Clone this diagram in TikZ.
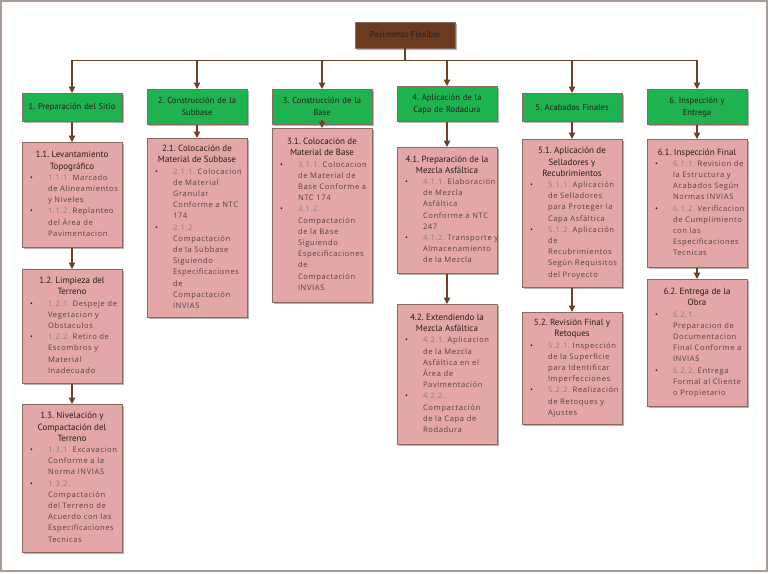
\documentclass[tikz,border=0pt]{standalone}
\usepackage{fontspec}
\setmainfont{PT Sans}
\newfontfamily\itemfont[LetterSpace=8]{Open Sans}
\usepackage{array}
\usetikzlibrary{arrows.meta,shadows}
\definecolor{rootbrown}{HTML}{6B3A1F}
\definecolor{greenfill}{HTML}{1EB34F}
\definecolor{pinkfill}{HTML}{E3A7A7}
\definecolor{boxline}{HTML}{8A6B62}
\definecolor{arrowc}{HTML}{6E4026}
\definecolor{framec}{HTML}{A99C95}
\definecolor{hdtext}{HTML}{2A1C1C}
\definecolor{ittext}{HTML}{564242}
\definecolor{numtext}{HTML}{8F7C7C}

\newcommand{\pk}[1]{{\fontsize{7.6}{11.2}\selectfont\itemfont\color{ittext}\renewcommand\arraystretch{1}%
  \begin{tabular}{@{\hspace{8pt}}l@{}l@{}}#1\end{tabular}}}
\newcommand{\Hd}[1]{\multicolumn{2}{@{}c@{}}{\fontsize{9}{11.2}\selectfont\rmfamily\color{hdtext}#1}\\}
\newcommand{\Bf}[2]{\makebox[18pt][l]{\color{hdtext}\textbullet} & \makebox[74pt][l]{{\color{numtext}#1} #2}\\}
\newcommand{\Bc}[1]{ & \makebox[74pt][l]{#1}\\}

\tikzset{
  boxshadow/.style={drop shadow={shadow xshift=1.8pt,shadow yshift=-1.8pt,opacity=0.3,fill=black}},
  rootbox/.style={draw=boxline, fill=rootbrown, line width=0.7pt, minimum width=100pt,
    minimum height=26pt, inner sep=2pt, font=\fontsize{8.6}{10}\selectfont, text=hdtext, boxshadow},
  greenstyle/.style={draw=boxline, fill=greenfill, line width=0.7pt, minimum width=100pt,
    text width=94pt, align=center, inner xsep=3pt, inner ysep=2pt,
    font=\fontsize{8.6}{12}\selectfont, text=hdtext, boxshadow, anchor=north},
  pinkstyle/.style={draw=boxline, fill=pinkfill, line width=0.7pt, minimum width=100pt,
    inner sep=0pt, boxshadow, anchor=north},
  arr/.style={draw=arrowc, line width=1.2pt, -{Triangle[width=6.5pt,length=6.5pt]}},
}

\begin{document}
\frenchspacing
\begin{tikzpicture}[x=1pt,y=-1pt]
\useasboundingbox (0,0) rectangle (768,573);
\fill[white] (0,0) rectangle (768,573);
\draw[framec, line width=2pt] (1,1) rectangle (767,571);

% root
\node[rootbox] (root) at (405,35) {Pavimento Flexible};

% level 1
\node[greenstyle, minimum height=28pt] (g1) at (72,93) {1. Preparación del Sitio};
\node[greenstyle, minimum height=35pt] (g2) at (197,89) {2. Construcción de la\\Subbase};
\node[greenstyle, minimum height=35pt] (g3) at (322,89) {3. Construcción de la\\Base};
\node[greenstyle, minimum height=35pt] (g4) at (447,86) {4. Aplicación de la\\Capa de Rodadura};
\node[greenstyle, minimum height=28pt] (g5) at (572,93) {5. Acabados Finales};
\node[greenstyle, minimum height=35pt] (g6) at (697,89) {6. Inspección y\\Entrega};

% level 2
\node[pinkstyle, minimum height=105pt] (p11) at (72,142) {\pk{%
  \Hd{1.1. Levantamiento}\Hd{Topográfico}
  \Bf{1.1.1.}{Marcado}\Bc{de Alineamientos}\Bc{y Niveles}
  \Bf{1.1.2.}{Replanteo}\Bc{del Área de}\Bc{Pavimentacion}}};
\node[pinkstyle, minimum height=114pt] (p12) at (72,269) {\pk{%
  \Hd{1.2. Limpieza del}\Hd{Terreno}
  \Bf{1.2.1.}{Despeje de}\Bc{Vegetacion y}\Bc{Obstaculos}
  \Bf{1.2.2.}{Retiro de}\Bc{Escombros y}\Bc{Material}\Bc{Inadecuado}}};
\node[pinkstyle, minimum height=148pt] (p13) at (72,404) {\pk{%
  \Hd{1.3. Nivelación y}\Hd{Compactación del}\Hd{Terreno}
  \Bf{1.3.1.}{Excavacion}\Bc{Conforme a la}\Bc{Norma INVIAS}
  \Bf{1.3.2.}{}\Bc{Compactación}\Bc{del Terreno de}\Bc{Acuerdo con las}\Bc{Especificaciones}\Bc{Tecnicas}}};
\node[pinkstyle, minimum height=179pt] (p21) at (197,138) {\pk{%
  \Hd{2.1. Colocación de}\Hd{Material de Subbase}
  \Bf{2.1.1.}{Colocacion}\Bc{de Material}\Bc{Granular}\Bc{Conforme a NTC}\Bc{174}
  \Bf{2.1.2.}{}\Bc{Compactación}\Bc{de la Subbase}\Bc{Siguiendo}\Bc{Especificaciones}\Bc{de}\Bc{Compactación}\Bc{INVIAS}}};
\node[pinkstyle, minimum height=174pt] (p31) at (322,128) {\pk{%
  \Hd{3.1. Colocación de}\Hd{Material de Base}
  \Bf{3.1.1.}{Colocacion}\Bc{de Material de}\Bc{Base Conforme a}\Bc{NTC 174}
  \Bf{3.1.2.}{}\Bc{Compactación}\Bc{de la Base}\Bc{Siguiendo}\Bc{Especificaciones}\Bc{de}\Bc{Compactación}\Bc{INVIAS}}};
\node[pinkstyle, minimum height=126pt] (p41) at (447,147) {\pk{%
  \Hd{4.1. Preparación de la}\Hd{Mezcla Asfáltica}
  \Bf{4.1.1.}{Elaboración}\Bc{de Mezcla}\Bc{Asfáltica}\Bc{Conforme a NTC}\Bc{247}
  \Bf{4.1.2.}{Transporte y}\Bc{Almacenamiento}\Bc{de la Mezcla}}};
\node[pinkstyle, minimum height=140pt] (p42) at (447,304) {\pk{%
  \Hd{4.2. Extendiendo la}\Hd{Mezcla Asfáltica}
  \Bf{4.2.1.}{Aplicacion}\Bc{de la Mezcla}\Bc{Asfáltica en el}\Bc{Área de}\Bc{Pavimentación}
  \Bf{4.2.2.}{}\Bc{Compactación}\Bc{de la Capa de}\Bc{Rodadura}}};
\node[pinkstyle, minimum height=148pt] (p51) at (572,139) {\pk{%
  \Hd{5.1. Aplicación de}\Hd{Selladores y}\Hd{Recubrimientos}
  \Bf{5.1.1.}{Aplicación}\Bc{de Selladores}\Bc{para Proteger la}\Bc{Capa Asfáltica}
  \Bf{5.1.2.}{Aplicación}\Bc{de}\Bc{Recubrimientos}\Bc{Según Requisitos}\Bc{del Proyecto}}};
\node[pinkstyle, minimum height=112pt] (p52) at (572,312) {\pk{%
  \Hd{5.2. Revisión Final y}\Hd{Retoques}
  \Bf{5.2.1.}{Inspección}\Bc{de la Superficie}\Bc{para Identificar}\Bc{Imperfecciones}
  \Bf{5.2.2.}{Realización}\Bc{de Retoques y}\Bc{Ajustes}}};
\node[pinkstyle, minimum height=128pt] (p61) at (697,139) {\pk{%
  \Hd{6.1. Inspección Final}
  \Bf{6.1.1.}{Revision de}\Bc{la Estructura y}\Bc{Acabados Según}\Bc{Normas INVIAS}
  \Bf{6.1.2.}{Verificacion}\Bc{de Cumplimiento}\Bc{con las}\Bc{Especificaciones}\Bc{Tecnicas}}};
\node[pinkstyle, minimum height=127pt] (p62) at (697,279) {\pk{%
  \Hd{6.2. Entrega de la}\Hd{Obra}
  \Bf{6.2.1.}{}\Bc{Preparacion de}\Bc{Documentacion}\Bc{Final Conforme a}\Bc{INVIAS}
  \Bf{6.2.2.}{Entrega}\Bc{Formal al Cliente}\Bc{o Propietario}}};

% connectors from root
\foreach \g in {g1,g2,g3,g4,g5,g6}
  \draw[arr] (root.south) -- ++(0,12) -| (\g.north);

% column connectors
\draw[arr] (g1.south) -- (p11.north);
\draw[arr] (p11.south) -- (p12.north);
\draw[arr] (p12.south) -- (p13.north);
\draw[arr] (g2.south) -- (p21.north);
\draw[arr] ([yshift=5pt]g3.south) -- (p31.north);
\draw[arr] (g4.south) -- (p41.north);
\draw[arr] (p41.south) -- (p42.north);
\draw[arr] (g5.south) -- (p51.north);
\draw[arr] (p51.south) -- (p52.north);
\draw[arr] (g6.south) -- (p61.north);
\draw[arr] (p61.south) -- (p62.north);
\end{tikzpicture}
\end{document}
